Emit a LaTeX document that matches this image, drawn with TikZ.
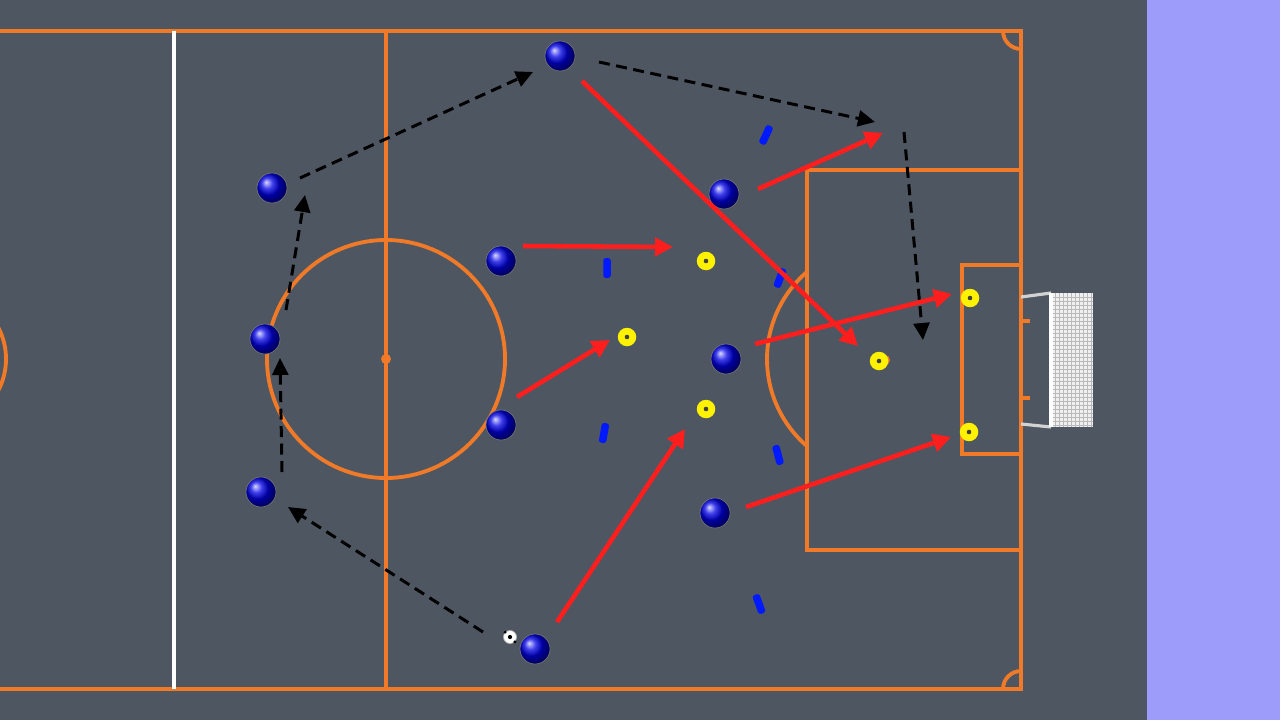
\documentclass[tikz,border=0pt]{standalone}
\usetikzlibrary{arrows.meta,shapes}
\usepackage{xcolor}
\definecolor{court}{HTML}{4E5661}
\definecolor{courtline}{HTML}{F07A28}
\definecolor{sidestrip}{HTML}{9E9CFB}
\definecolor{runred}{HTML}{FF1E1E}

\begin{document}
\begin{tikzpicture}[x={(0.02cm,0)},y={(0,-0.02cm)}]
            \tikzstyle{marking} = [courtline, line width=2.2pt]
            \tikzstyle{player} = [circle, minimum size=0.6cm, inner sep=0pt, draw=black!55, thin, shading=ball, ball color=blue!90!black]
            \tikzstyle{cone} = [circle, minimum size=0.37cm, inner sep=0pt, fill=yellow, path picture={\fill[black!75] (path picture bounding box.center) circle (1.3pt);}]
            \tikzstyle{dummy} = [rectangle, rounded corners=1.5pt, minimum width=0.15cm, minimum height=0.4cm, inner sep=0pt, fill=blue!90!cyan]
            \tikzstyle{pass} = [-{Triangle[length=0.34cm,width=0.32cm]}, black, line width=1.7pt, dash pattern=on 0.22cm off 0.13cm]
            \tikzstyle{run} = [-{Triangle[length=0.36cm,width=0.36cm]}, runred, line width=2.6pt]
            \tikzstyle{netline} = [gray!55, line width=0.3pt]
            \useasboundingbox (0,0) rectangle (1280,720);
            % court and side strip
            \fill[court] (0,0) rectangle (1147,720);
            \fill[sidestrip] (1147,0) rectangle (1280,720);
            % markings
            \draw[marking] (0,31) -- (1021,31) -- (1021,689) -- (0,689);
            \draw[white, line width=2.4pt] (174,31) -- (174,689);
            \draw[marking] (386,31) -- (386,689);
            \draw[marking] (386,359) circle (119);
            \fill[courtline] (386,359) circle (5);
            \begin{scope}
                \clip (0,0) rectangle (807,720);
                \draw[marking] (-62,359) circle (68);
                \draw[marking] (882,359) circle (115);
            \end{scope}
            \draw[marking] (807,170) rectangle (1021,550);
            \draw[marking] (962,265) rectangle (1021,454);
            \draw[marking] (1003,31) arc[start angle=180, end angle=90, radius=18];
            \draw[marking] (1003,689) arc[start angle=180, end angle=270, radius=18];
            \draw[marking] (1021,321) -- (1030,321);
            \draw[marking] (1021,398) -- (1030,398);
            \fill[courtline] (885,360) circle (5);
            % goal
            \fill[gray!12] (1051,293) rectangle (1093,427);
            \foreach \gx in {1055,1059,...,1091} \draw[netline] (\gx,293) -- (\gx,427);
            \foreach \gy in {297,301,...,425} \draw[netline] (1051,\gy) -- (1093,\gy);
            \draw[gray!35, line width=1.8pt] (1021,297) -- (1051,293);
            \draw[gray!35, line width=1.8pt] (1021,424) -- (1051,427);
            \draw[white, line width=1.8pt] (1051,293) -- (1051,427);
            % players
            \node[player] (top) at (560,56) {};
            \node[player] (wingl) at (272,188) {};
            \node[player] (midl) at (501,261) {};
            \node[player] (backl) at (265,339) {};
            \node[player] (midr) at (501,425) {};
            \node[player] (wingr) at (261,492) {};
            \node[player] (keeper) at (535,649) {};
            \node[player] (fwdl) at (724,194) {};
            \node[player] (fwdc) at (726,359) {};
            \node[player] (fwdr) at (715,513) {};
            % cones
            \node[cone] (cone1) at (706,261) {};
            \node[cone] (cone2) at (627,337) {};
            \node[cone] (cone3) at (706,409) {};
            \node[cone] (cone4) at (970,298) {};
            \node[cone] (cone5) at (969,432) {};
            \node[cone] (cone6) at (879,361) {};
            % ball
            \node[circle, fill=white, draw=gray!60, minimum size=0.26cm, inner sep=0pt] (ball) at (510,637) {};
            \fill[black] (ball.center) circle (1.2pt);
            \fill[black] (ball.north west) circle (0.9pt);
            \fill[black] (ball.south east) circle (0.9pt);
            % dummies
            \node[dummy, rotate=-25] (dum1) at (766,135) {};
            \node[dummy] (dum2) at (607,268) {};
            \node[dummy, rotate=-20] (dum3) at (780,278) {};
            \node[dummy, rotate=15] (dum4) at (778,455) {};
            \node[dummy, rotate=20] (dum5) at (759,604) {};
            \node[dummy, rotate=-10] (dum6) at (604,433) {};
            % pass lines
            \coordinate (p1s) at (483,632);
            \coordinate (p1e) at (288,507);
            \coordinate (p2s) at (282,472);
            \coordinate (p2e) at (280,358);
            \coordinate (p3s) at (286,310);
            \coordinate (p3e) at (305,195);
            \coordinate (p4s) at (300,178);
            \coordinate (p4e) at (533,72);
            \coordinate (p5s) at (599,62);
            \coordinate (p5e) at (875,122);
            \coordinate (p6s) at (904,132);
            \coordinate (p6e) at (923,340);
            \draw[pass] (p1s) -- (p1e);
            \draw[pass] (p2s) -- (p2e);
            \draw[pass] (p3s) -- (p3e);
            \draw[pass] (p4s) -- (p4e);
            \draw[pass] (p5s) -- (p5e);
            \draw[pass] (p6s) -- (p6e);
            % runs
            \coordinate (r1s) at (523,246);
            \coordinate (r1e) at (673,247);
            \coordinate (r2s) at (517,397);
            \coordinate (r2e) at (610,340);
            \coordinate (r3s) at (557,622);
            \coordinate (r3e) at (685,429);
            \coordinate (r4s) at (582,81);
            \coordinate (r4e) at (858,346);
            \coordinate (r5s) at (758,189);
            \coordinate (r5e) at (883,133);
            \coordinate (r6s) at (755,344);
            \coordinate (r6e) at (952,294);
            \coordinate (r7s) at (746,507);
            \coordinate (r7e) at (951,437);
            \draw[run] (r1s) -- (r1e);
            \draw[run] (r2s) -- (r2e);
            \draw[run] (r3s) -- (r3e);
            \draw[run] (r4s) -- (r4e);
            \draw[run] (r5s) -- (r5e);
            \draw[run] (r6s) -- (r6e);
            \draw[run] (r7s) -- (r7e);
        \end{tikzpicture}
\end{document}
